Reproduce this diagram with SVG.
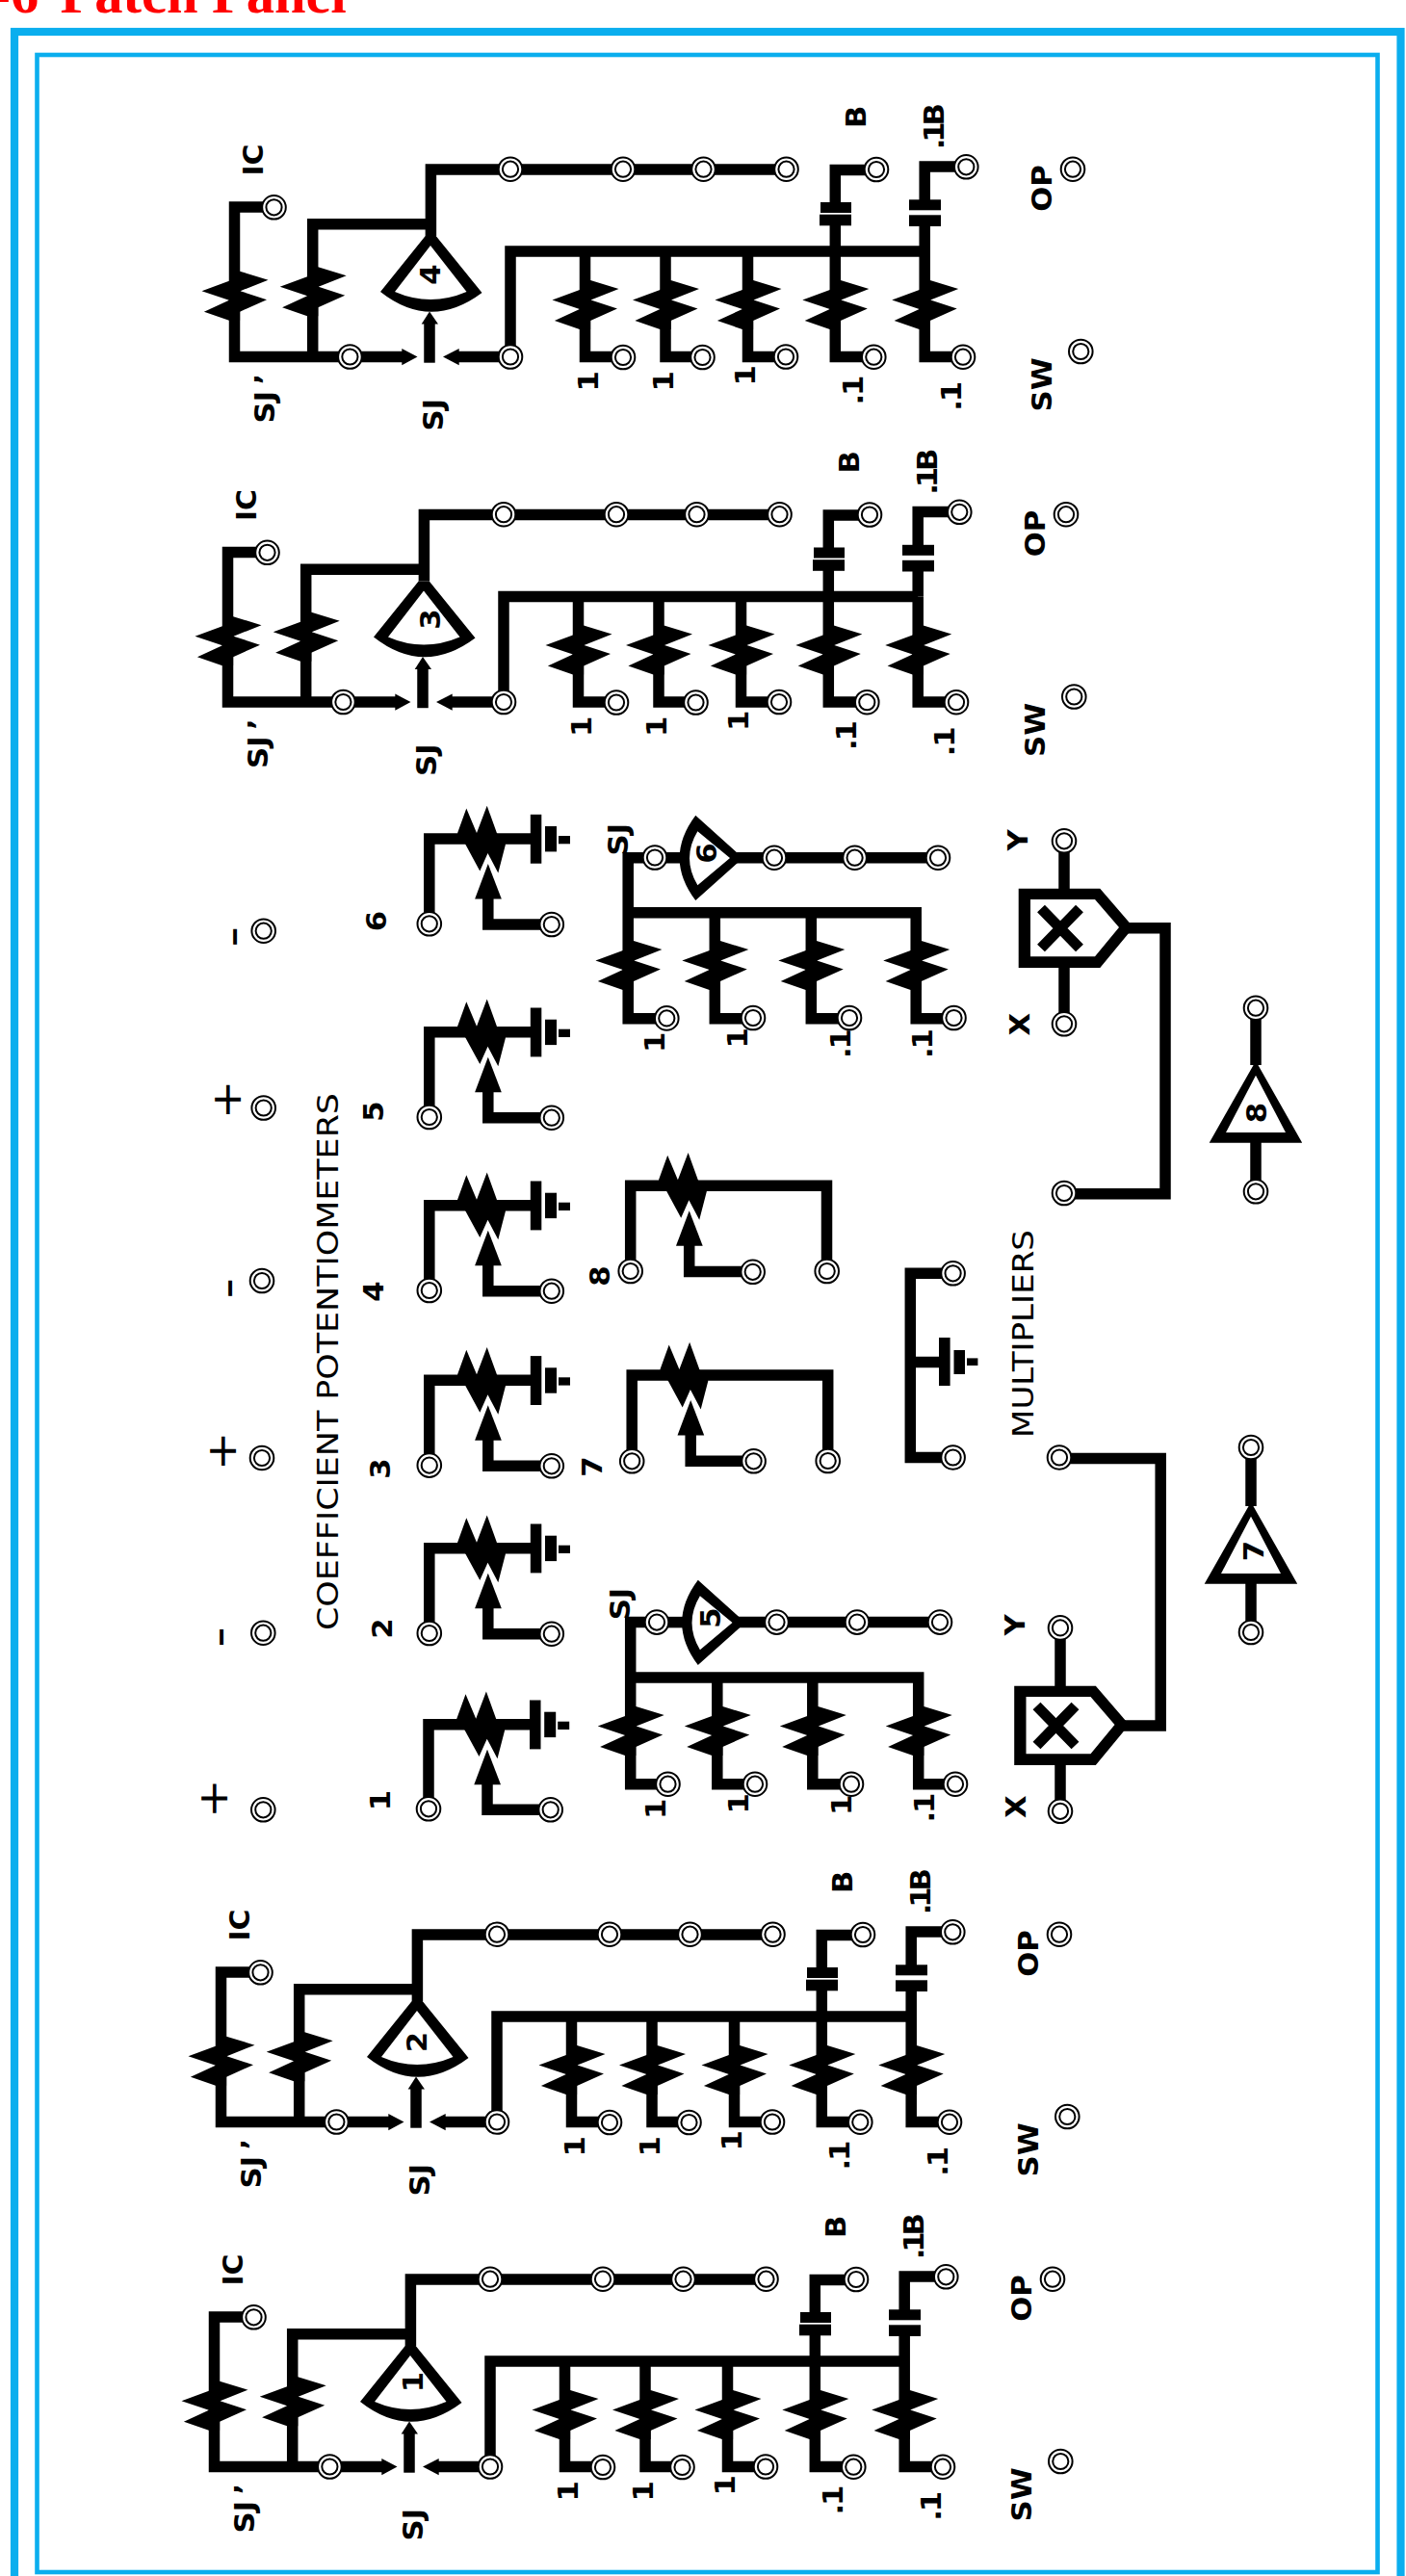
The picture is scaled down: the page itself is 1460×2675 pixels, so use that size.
<svg xmlns="http://www.w3.org/2000/svg" width="1460" height="2675" viewBox="0 0 1460 2675">
<style>
.frame{fill:none;stroke:#0baeee}
.w{fill:none;stroke:#000;stroke-width:11.5;stroke-linejoin:miter;stroke-linecap:butt}
.k{fill:#000}
.ring{fill:#fff;stroke:#000}
text{fill:#000;font-family:"DejaVu Sans",sans-serif}
.b{font-size:29px;font-weight:bold}
.d{letter-spacing:-2px}
.e{letter-spacing:-4px}
.m{text-anchor:middle}
.r{font-size:30.5px}
.s{font-size:42px}
.title{font-family:"Liberation Serif",serif;font-size:58.5px;font-weight:bold;fill:#f00}
</style>
<defs>
<g id="t"><circle class="ring" r="12.3" stroke-width="2"/><circle class="ring" r="8.1" stroke-width="2"/></g>
<polygon id="rv" class="k" points="5.6,0 35,9 6,20.5 33.5,29.5 5.6,42 5.6,51 -5.6,51 -31.6,42 -5.6,30 -34,20.5 -5.6,10"/>
<g id="pot">
<polygon class="k" points="29.2,-5.7 38.5,-31.5 49.2,-6 59.9,-34.3 70.2,-5.7 79.2,5.7 71.5,35.5 60.7,15 52.5,33.4 37.5,5.7"/>
<polygon class="k" points="61,26 47.3,62.5 75,62.5"/>
</g>
<g id="batt"><rect class="k" x="105" y="-25.2" width="11.5" height="50.9"/><rect class="k" x="120.2" y="-13" width="12" height="26.4"/><rect class="k" x="134.2" y="-3" width="12" height="8.3"/></g>
<path id="amp" class="k" fill-rule="evenodd" d="M441.7,245 H452.7 L500.5,304 Q447,344 395,303 Z M447,255 L410,303 Q447,319 484.5,303 Z"/>
<path id="amph" class="k" fill-rule="evenodd" d="M771.6,891 L722.3,846.8 Q689,891 722.3,935 Z M758,891 L724.4,863.3 Q707.6,891 724.4,919.3 Z"/>
<g id="mult"><path class="k" fill-rule="evenodd" d="M1057.7,922.7 H1142.3 L1177,963 L1142.3,1005 H1057.7 Z M1070,934 H1137 L1162,963 L1137,993.3 H1070 Z"/><path d="M1081,943.5 L1121,984.5 M1121,943.5 L1081,984.5" fill="none" stroke="#000" stroke-width="11"/></g>
<path id="tri" class="k" fill-rule="evenodd" d="M1304,1101.7 L1352.2,1186.7 H1255.7 Z M1304,1116.7 L1335,1176 H1273 Z"/>
<g id="ampSym">
<use href="#amp"/>
<use href="#rv" x="243.5" y="281.7"/><use href="#rv" x="324.7" y="277.3"/>
<use href="#rv" x="607.5" y="291"/><use href="#rv" x="691" y="291"/><use href="#rv" x="776.5" y="291"/><use href="#rv" x="867.3" y="291"/><use href="#rv" x="960.2" y="291"/>
<rect class="k" x="851" y="222.7" width="33" height="11.6"/><rect class="k" x="852" y="210" width="32" height="11"/>
<rect class="k" x="944" y="223.3" width="33" height="11.7"/><rect class="k" x="944" y="207.3" width="33" height="11"/>
<polygon class="k" points="433.5,370.5 417.3,362 417.3,379.3"/><polygon class="k" points="460,370.5 476.7,362 476.7,379.3"/>
<polygon class="k" points="446,323.5 437.7,336.5 455,336.5"/>
<use href="#t" x="284.5" y="215.3"/><use href="#t" x="363.4" y="370.5"/><use href="#t" x="530" y="175.7"/><use href="#t" x="647" y="175.7"/><use href="#t" x="730.5" y="175.7"/><use href="#t" x="816.5" y="175.7"/><use href="#t" x="530" y="370.5"/><use href="#t" x="647" y="371"/><use href="#t" x="729.5" y="371"/><use href="#t" x="816" y="370.5"/><use href="#t" x="907.3" y="370.7"/><use href="#t" x="1000" y="370.7"/><use href="#t" x="910" y="176"/><use href="#t" x="1003.3" y="173.3"/><use href="#t" x="1114" y="175.7"/><use href="#t" x="1122.3" y="365"/>
</g>
<g id="ampWires">
<path class="w" d="M447.4,245 V176 H816"/>
<path class="w" d="M447.4,232.7 H324.7 V370.5"/>
<path class="w" d="M284,215 H243.5 V370.5 H364"/>
<path class="w" d="M364,370.5 H420"/>
<path class="w" d="M446,335 V376.7"/>
<path class="w" d="M530,370.5 H475"/>
<path class="w" d="M530,370.5 V261 H960.2"/>
<path class="w" d="M607.5,261 V370.5 H647"/><path class="w" d="M691,261 V370.5 H729.5"/><path class="w" d="M776.5,261 V370.5 H816"/><path class="w" d="M867.3,261 V370.5 H907"/><path class="w" d="M960.2,261 V370.5 H1000"/>
<path class="w" d="M867.3,261 V230"/><path class="w" d="M867.3,212 V176.5 H910"/>
<path class="w" d="M960.2,261 V230"/><path class="w" d="M960.2,212 V173 H1003"/>
</g>
</defs>

<text class="title" x="-8.6" y="13.3">-6 <tspan x="62.5">Patch Panel</tspan></text>
<rect class="frame" x="15" y="33" width="1439.5" height="2700" stroke-width="8.2"/>
<rect class="frame" x="38.5" y="57" width="1392" height="2614" stroke-width="4.6"/>

<g id="connectors">
<use href="#ampWires"/>
<use href="#ampWires" transform="translate(-7,358.5)"/>
<use href="#ampWires" transform="translate(-14,1833)"/>
<use href="#ampWires" transform="translate(-21,2191)"/>
<path class="w" d="M445.8,959.3 V871 H552"/><path class="w" d="M506.8,930 V960 H572.7"/>
<path class="w" d="M445.8,1160 V1071.7 H552"/><path class="w" d="M506.8,1131 V1160.7 H572.7"/>
<path class="w" d="M445.8,1340 V1251.7 H552"/><path class="w" d="M506.8,1311 V1340.7 H572.7"/>
<path class="w" d="M445.8,1521.7 V1433.3 H552"/><path class="w" d="M506.8,1493 V1522.3 H572.7"/>
<path class="w" d="M445.8,1696 V1607.7 H552"/><path class="w" d="M506.8,1667 V1696.7 H572.7"/>
<path class="w" d="M445,1878.3 V1790.7 H551"/><path class="w" d="M506,1850 V1879.3 H571.7"/>
<path class="w" d="M654.7,1320 V1231.3 H858.5 V1320"/><path class="w" d="M715.7,1291 V1320.6 H781.6"/>
<path class="w" d="M656.2,1517.3 V1428 H859.7 V1517"/><path class="w" d="M717.2,1488 V1517.3 H782.6"/>
<path class="w" d="M989.6,1322.3 H945.3 V1513.5 H989.6"/><path class="w" d="M945.3,1414.4 H981"/>
<path class="w" d="M679.6,890.7 H652.2 V1057.7 H692"/><path class="w" d="M652.2,947.7 H951.2 V1057.7 H990.5"/><path class="w" d="M742.3,947.7 V1057.7 H782"/><path class="w" d="M842.3,947.7 V1057.7 H882"/><path class="w" d="M679.6,890.7 H712"/><path class="w" d="M762,890.7 H974"/>
<path class="w" d="M682,1684.6 H654.7 V1852.7 H693.5"/><path class="w" d="M654.7,1742 H953.7 V1852.7 H992"/><path class="w" d="M744.8,1742 V1852.7 H784"/><path class="w" d="M843.8,1742 V1852.7 H884"/><path class="w" d="M682,1684.6 H714"/><path class="w" d="M764,1684.6 H976"/>
<path class="w" d="M1105,873 V925"/><path class="w" d="M1105,1063 V1003"/><path class="w" d="M1165,963.8 H1210 V1239.7 H1105"/>
<path class="w" d="M1101,1690 V1752"/><path class="w" d="M1101,1881 V1830"/><path class="w" d="M1160,1792 H1205.2 V1514.4 H1100"/>
<path class="w" d="M1304,1046.7 V1106"/><path class="w" d="M1304,1184 V1237.3"/>
<path class="w" d="M1299,1503 V1564"/><path class="w" d="M1299,1642 V1695"/>
</g>

<g id="amp4"><use href="#ampSym"/>
<text class="b" transform="translate(273.3,182.5) rotate(-90) scale(1.03,1)">IC</text><text class="b" transform="translate(285.3,439.5) rotate(-90) scale(1.06,1)">SJ <tspan dx="-4">’</tspan></text><text class="b" transform="translate(460,447.5) rotate(-90) scale(1.06,1)">SJ</text>
<text class="b" transform="translate(621,406.5) rotate(-90) scale(1.06,1)">1</text><text class="b" transform="translate(698.5,406.5) rotate(-90) scale(1.06,1)">1</text><text class="b" transform="translate(784,400.5) rotate(-90) scale(1.06,1)">1</text><text class="b d" transform="translate(896,420.5) rotate(-90) scale(1.06,1)">.1</text><text class="b d" transform="translate(998.3,426.7) rotate(-90) scale(1.06,1)">.1</text>
<text class="b" transform="translate(899.3,133) rotate(-90) scale(1.06,1)">B</text><text class="b e" transform="translate(979.5,155.2) rotate(-90) scale(1.06,1)">.1B</text><text class="b" transform="translate(1091.7,219.8) rotate(-90) scale(1.06,1)">OP</text><text class="b" transform="translate(1091.7,427.5) rotate(-90) scale(1.06,1)">SW</text>
<text class="b m" transform="translate(456.5,285) rotate(-90) scale(1.06,1)">4</text></g>
<g id="amp3" transform="translate(-7,358.5)"><use href="#ampSym"/>
<text class="b" transform="translate(273.3,182.5) rotate(-90) scale(1.03,1)">IC</text><text class="b" transform="translate(285.3,439.5) rotate(-90) scale(1.06,1)">SJ <tspan dx="-4">’</tspan></text><text class="b" transform="translate(460,447.5) rotate(-90) scale(1.06,1)">SJ</text>
<text class="b" transform="translate(621,406.5) rotate(-90) scale(1.06,1)">1</text><text class="b" transform="translate(698.5,406.5) rotate(-90) scale(1.06,1)">1</text><text class="b" transform="translate(784,400.5) rotate(-90) scale(1.06,1)">1</text><text class="b d" transform="translate(896,420.5) rotate(-90) scale(1.06,1)">.1</text><text class="b d" transform="translate(998.3,426.7) rotate(-90) scale(1.06,1)">.1</text>
<text class="b" transform="translate(899.3,133) rotate(-90) scale(1.06,1)">B</text><text class="b e" transform="translate(979.5,155.2) rotate(-90) scale(1.06,1)">.1B</text><text class="b" transform="translate(1091.7,219.8) rotate(-90) scale(1.06,1)">OP</text><text class="b" transform="translate(1091.7,427.5) rotate(-90) scale(1.06,1)">SW</text>
<text class="b m" transform="translate(463.5,284.5) rotate(-90) scale(1.06,1)">3</text></g>
<g id="amp2" transform="translate(-14,1833)"><use href="#ampSym"/>
<text class="b" transform="translate(273.3,182.5) rotate(-90) scale(1.03,1)">IC</text><text class="b" transform="translate(285.3,439.5) rotate(-90) scale(1.06,1)">SJ <tspan dx="-4">’</tspan></text><text class="b" transform="translate(460,447.5) rotate(-90) scale(1.06,1)">SJ</text>
<text class="b" transform="translate(621,406.5) rotate(-90) scale(1.06,1)">1</text><text class="b" transform="translate(698.5,406.5) rotate(-90) scale(1.06,1)">1</text><text class="b" transform="translate(784,400.5) rotate(-90) scale(1.06,1)">1</text><text class="b d" transform="translate(896,420.5) rotate(-90) scale(1.06,1)">.1</text><text class="b d" transform="translate(998.3,426.7) rotate(-90) scale(1.06,1)">.1</text>
<text class="b" transform="translate(899.3,133) rotate(-90) scale(1.06,1)">B</text><text class="b e" transform="translate(979.5,155.2) rotate(-90) scale(1.06,1)">.1B</text><text class="b" transform="translate(1091.7,219.8) rotate(-90) scale(1.06,1)">OP</text><text class="b" transform="translate(1091.7,427.5) rotate(-90) scale(1.06,1)">SW</text>
<text class="b m" transform="translate(456.5,287.5) rotate(-90) scale(1.06,1)">2</text></g>
<g id="amp1" transform="translate(-21,2191)"><use href="#ampSym"/>
<text class="b" transform="translate(273.3,182.5) rotate(-90) scale(1.03,1)">IC</text><text class="b" transform="translate(285.3,439.5) rotate(-90) scale(1.06,1)">SJ <tspan dx="-4">’</tspan></text><text class="b" transform="translate(460,447.5) rotate(-90) scale(1.06,1)">SJ</text>
<text class="b" transform="translate(621,406.5) rotate(-90) scale(1.06,1)">1</text><text class="b" transform="translate(698.5,406.5) rotate(-90) scale(1.06,1)">1</text><text class="b" transform="translate(784,400.5) rotate(-90) scale(1.06,1)">1</text><text class="b d" transform="translate(896,420.5) rotate(-90) scale(1.06,1)">.1</text><text class="b d" transform="translate(998.3,426.7) rotate(-90) scale(1.06,1)">.1</text>
<text class="b" transform="translate(899.3,133) rotate(-90) scale(1.06,1)">B</text><text class="b e" transform="translate(979.5,155.2) rotate(-90) scale(1.06,1)">.1B</text><text class="b" transform="translate(1091.7,219.8) rotate(-90) scale(1.06,1)">OP</text><text class="b" transform="translate(1091.7,427.5) rotate(-90) scale(1.06,1)">SW</text>
<text class="b m" transform="translate(460,282.5) rotate(-90) scale(1.06,1)">1</text></g>

<g id="labels">
<text class="r" textLength="558" lengthAdjust="spacingAndGlyphs" transform="translate(351,1693) rotate(-90)">COEFFICIENT POTENTIOMETERS</text>
<text class="r" textLength="216" lengthAdjust="spacingAndGlyphs" transform="translate(1072.6,1493) rotate(-90)">MULTIPLIERS</text>
</g>

<g id="coef-terminals">
<use href="#t" x="273.7" y="966.7"/><use href="#t" x="273.7" y="1150.5"/><use href="#t" x="272" y="1330"/><use href="#t" x="272" y="1514"/><use href="#t" x="273.3" y="1695.7"/><use href="#t" x="273.3" y="1879.3"/>
<text class="s m" transform="translate(258.5,972.7) rotate(-90) scale(.95,1.3)">–</text>
<text class="s m" transform="translate(250,1141.7) rotate(-90) scale(1.15,1)">+</text>
<text class="s m" transform="translate(253.5,1337.7) rotate(-90) scale(.95,1.3)">–</text>
<text class="s m" transform="translate(245,1506.7) rotate(-90) scale(1.15,1)">+</text>
<text class="s m" transform="translate(244.8,1700) rotate(-90) scale(.95,1.3)">–</text>
<text class="s m" transform="translate(236,1867.5) rotate(-90) scale(1.15,1)">+</text>
</g>

<g id="pot6" transform="translate(445.8,871)"><use href="#pot"/><use href="#batt"/><use href="#t" x="0" y="88.3"/><use href="#t" x="127" y="89"/></g>
<text class="b m" transform="translate(401,956.6) rotate(-90) scale(1.06,1)">6</text>
<g id="pot5" transform="translate(445.8,1071.7)"><use href="#pot"/><use href="#batt"/><use href="#t" x="0" y="88.3"/><use href="#t" x="127" y="89"/></g>
<text class="b m" transform="translate(398.3,1154) rotate(-90) scale(1.06,1)">5</text>
<g id="pot4" transform="translate(445.8,1251.7)"><use href="#pot"/><use href="#batt"/><use href="#t" x="0" y="88.3"/><use href="#t" x="127" y="89"/></g>
<text class="b m" transform="translate(397.6,1341) rotate(-90) scale(1.06,1)">4</text>
<g id="pot3" transform="translate(445.8,1433.3)"><use href="#pot"/><use href="#batt"/><use href="#t" x="0" y="88.3"/><use href="#t" x="127" y="89"/></g>
<text class="b m" transform="translate(405,1525) rotate(-90) scale(1.06,1)">3</text>
<g id="pot2" transform="translate(445.8,1607.7)"><use href="#pot"/><use href="#batt"/><use href="#t" x="0" y="88.3"/><use href="#t" x="127" y="89"/></g>
<text class="b m" transform="translate(407.3,1691) rotate(-90) scale(1.06,1)">2</text>
<g id="pot1" transform="translate(445,1790.7)"><use href="#pot"/><use href="#batt"/><use href="#t" x="0" y="87.6"/><use href="#t" x="126.7" y="88.6"/></g>
<text class="b m" transform="translate(405,1869.5) rotate(-90) scale(1.06,1)">1</text>
<g id="pot8" transform="translate(654.7,1231.3)"><use href="#pot"/><use href="#t" x="0" y="88.7"/><use href="#t" x="127" y="89.5"/><use href="#t" x="204" y="88.7"/></g>
<text class="b m" transform="translate(633.3,1325) rotate(-90) scale(1.06,1)">8</text>
<g id="pot7" transform="translate(656.2,1428)"><use href="#pot"/><use href="#t" x="0" y="89.3"/><use href="#t" x="126.4" y="89.3"/><use href="#t" x="203.5" y="89"/></g>
<text class="b m" transform="translate(625.3,1523) rotate(-90) scale(1.06,1)">7</text>

<g id="ground">
<rect class="k" x="975" y="1389" width="11.6" height="50"/><rect class="k" x="990.5" y="1402" width="11.5" height="25"/><rect class="k" x="1004" y="1410.4" width="11.4" height="7.6"/>
<use href="#t" x="989.6" y="1322.3"/><use href="#t" x="989.6" y="1513.5"/>
</g>

<g id="amp6"><use href="#amph"/>
<use href="#rv" x="652.4" y="977"/><use href="#rv" x="742.3" y="977"/><use href="#rv" x="842.3" y="977"/><use href="#rv" x="951.2" y="977"/>
<use href="#t" x="680" y="890.5"/><use href="#t" x="804" y="890.7"/><use href="#t" x="887.6" y="890.7"/><use href="#t" x="974" y="890.7"/>
<use href="#t" x="692.3" y="1057.4"/><use href="#t" x="782" y="1057"/><use href="#t" x="882" y="1057"/><use href="#t" x="990.5" y="1057"/>
<text class="b m" transform="translate(744,886) rotate(-90) scale(1.06,1)">6</text>
<text class="b" transform="translate(652.2,888.5) rotate(-90) scale(1.06,1)">SJ</text>
<text class="b" transform="translate(690,1093) rotate(-90) scale(1.06,1)">1</text><text class="b" transform="translate(775.6,1088.5) rotate(-90) scale(1.06,1)">1</text><text class="b d" transform="translate(883,1099) rotate(-90) scale(1.06,1)">.1</text><text class="b d" transform="translate(968.3,1099) rotate(-90) scale(1.06,1)">.1</text>
</g>
<g id="amp5"><use href="#amph" transform="translate(2.5,794)"/>
<use href="#rv" x="654.7" y="1772"/><use href="#rv" x="744.8" y="1772"/><use href="#rv" x="843.8" y="1772"/><use href="#rv" x="953.7" y="1772"/>
<use href="#t" x="682" y="1684.6"/><use href="#t" x="806.5" y="1684.6"/><use href="#t" x="890" y="1684.6"/><use href="#t" x="976" y="1684.6"/>
<use href="#t" x="693.5" y="1852.7"/><use href="#t" x="784" y="1852.7"/><use href="#t" x="884" y="1852.7"/><use href="#t" x="992" y="1852.7"/>
<text class="b m" transform="translate(748,1680) rotate(-90) scale(1.06,1)">5</text>
<text class="b" transform="translate(654,1682.3) rotate(-90) scale(1.06,1)">SJ</text>
<text class="b" transform="translate(691,1889) rotate(-90) scale(1.06,1)">1</text><text class="b" transform="translate(777,1883.5) rotate(-90) scale(1.06,1)">1</text><text class="b" transform="translate(883.8,1885) rotate(-90) scale(1.06,1)">1</text><text class="b d" transform="translate(970,1892.5) rotate(-90) scale(1.06,1)">.1</text>
</g>
<g id="mult6"><use href="#mult"/><use href="#t" x="1105" y="873.3"/><use href="#t" x="1105" y="1063.3"/><use href="#t" x="1105" y="1239"/>
<text class="b" transform="translate(1067,883.5) rotate(-90) scale(1.06,1)">Y</text><text class="b" transform="translate(1069.3,1075.5) rotate(-90) scale(1.06,1)">X</text></g>
<g id="mult5"><use href="#mult" transform="translate(-4.5,828)"/><use href="#t" x="1101" y="1690.4"/><use href="#t" x="1101" y="1880.8"/><use href="#t" x="1100" y="1513.5"/>
<text class="b" transform="translate(1064.3,1698.5) rotate(-90) scale(1.06,1)">Y</text><text class="b" transform="translate(1065.3,1888) rotate(-90) scale(1.06,1)">X</text></g>
<g id="tri8"><use href="#tri"/><use href="#t" x="1304" y="1046.7"/><use href="#t" x="1304" y="1237.3"/>
<text class="b m" transform="translate(1315,1155.5) rotate(-90) scale(1.06,1)">8</text></g>
<g id="tri7"><use href="#tri" transform="translate(-5,458)"/><use href="#t" x="1299" y="1503"/><use href="#t" x="1299" y="1695"/>
<text class="b m" transform="translate(1311.5,1610.5) rotate(-90) scale(1.06,1)">7</text></g>
</svg>
